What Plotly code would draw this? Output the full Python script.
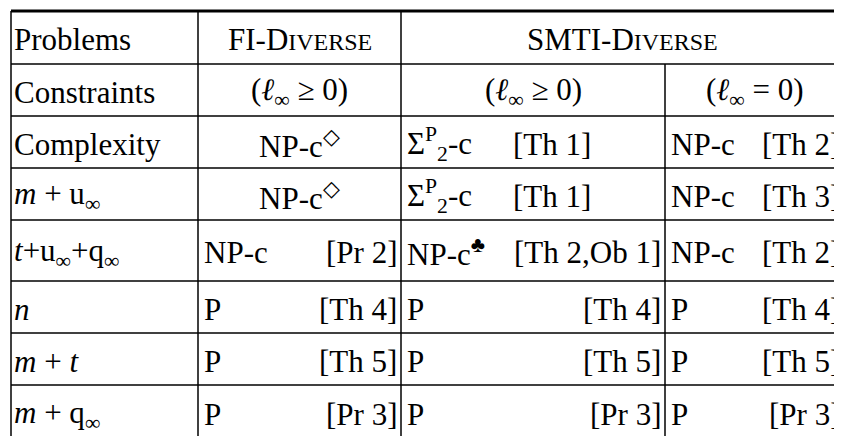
import plotly.graph_objects as go

# table geometry (pixels)
row_edges = [3, 56, 108, 160, 212, 273, 325, 377, 432]
col_edges = [3, 190, 393, 657, 836]

row_labels = ["Problems", "Constraints", "Complexity",
              "<i>m</i> + u<sub>∞</sub>",
              "<i>t</i>+u<sub>∞</sub>+q<sub>∞</sub>",
              "<i>n</i>", "<i>m</i> + <i>t</i>", "<i>m</i> + q<sub>∞</sub>"]

SC = "<span style='font-size:24px'>"
header_fi = "FI-D" + SC + "IVERSE</span>"
header_smti = "SMTI-D" + SC + "IVERSE</span>"
ell_ge = "(<i>ℓ</i><sub>∞</sub> ≥ 0)"
ell_eq = "(<i>ℓ</i><sub>∞</sub> = 0)"
np_diamond = "NP-c<sup>◇</sup>"
sigma = "Σ<sup>P</sup><sub>2</sub>-c"

# (row, col, text, align)  align: c = centred, l = left, r = right
cells = [
    (1, 1, ell_ge, "c"), (1, 2, ell_ge, "c"), (1, 3, ell_eq, "c"),
    (2, 1, np_diamond, "c"), (2, 2, sigma, "l"), (2, 2, "[Th 1]", "r2"),
    (2, 3, "NP-c", "l"), (2, 3, "[Th 2]", "r"),
    (3, 1, np_diamond, "c"), (3, 2, sigma, "l"), (3, 2, "[Th 1]", "r2"),
    (3, 3, "NP-c", "l"), (3, 3, "[Th 3]", "r"),
    (4, 1, "NP-c", "l"), (4, 1, "[Pr 2]", "r"),
    (4, 2, "NP-c<sup>♣</sup>", "l"), (4, 2, "[Th 2,Ob 1]", "r"),
    (4, 3, "NP-c", "l"), (4, 3, "[Th 2]", "r"),
]
p_refs = [["[Th 4]", "[Th 4]", "[Th 4]"],
          ["[Th 5]", "[Th 5]", "[Th 5]"],
          ["[Pr 3]", "[Pr 3]", "[Pr 3]"]]
for i, refs in enumerate(p_refs):
    for j, ref in enumerate(refs):
        cells.append((5 + i, 1 + j, "P", "l"))
        cells.append((5 + i, 1 + j, ref, "r"))

FONT = dict(family="Liberation Serif, Times New Roman, serif", size=31, color="black")

fig = go.Figure()
fig.add_trace(go.Scatter(x=[0, 842], y=[0, 436], mode="markers",
                         marker=dict(size=0, opacity=0), hoverinfo="skip"))

shapes = []
# horizontal rules
for k, y in enumerate(row_edges):
    w = 3 if k in (0, len(row_edges) - 1) else 1.5
    shapes.append(dict(type="line", x0=col_edges[0], x1=col_edges[-1], y0=y, y1=y,
                       line=dict(color="black", width=w)))
# vertical rules (no split inside the SMTI header cell)
for k, x in enumerate(col_edges):
    y0 = row_edges[1] if k == 3 else row_edges[0]
    shapes.append(dict(type="line", x0=x, x1=x, y0=y0, y1=row_edges[-1],
                       line=dict(color="black", width=1.5)))

annotations = []


def mid_y(r):
    return (row_edges[r] + row_edges[r + 1]) / 2 + 2


for r, lab in enumerate(row_labels):
    annotations.append(dict(x=col_edges[0] + 1, y=mid_y(r), text=lab, xanchor="left"))

annotations.append(dict(x=(col_edges[1] + col_edges[2]) / 2, y=mid_y(0), text=header_fi, xanchor="center"))
annotations.append(dict(x=(col_edges[2] + col_edges[4]) / 2, y=mid_y(0), text=header_smti, xanchor="center"))

for r, c, txt, al in cells:
    x0, x1 = col_edges[c], col_edges[c + 1]
    if al == "c":
        annotations.append(dict(x=(x0 + x1) / 2, y=mid_y(r), text=txt, xanchor="center"))
    elif al == "l":
        annotations.append(dict(x=x0 + 4, y=mid_y(r), text=txt, xanchor="left"))
    elif al == "r2":
        annotations.append(dict(x=x0 + 192, y=mid_y(r), text=txt, xanchor="right"))
    else:
        annotations.append(dict(x=x1 - 2, y=mid_y(r), text=txt, xanchor="right"))

for a in annotations:
    a.update(xref="x", yref="y", showarrow=False, yanchor="middle", font=FONT)

fig.update_layout(
    autosize=True, margin=dict(l=0, r=0, t=0, b=0),
    paper_bgcolor="white", plot_bgcolor="white", showlegend=False,
    xaxis=dict(range=[0, 842], visible=False, fixedrange=True),
    yaxis=dict(range=[436, 0], visible=False, fixedrange=True),
    shapes=shapes, annotations=annotations)

fig.write_html("out.html", config={"displayModeBar": False},
               default_width="100vw", default_height="100vh")
